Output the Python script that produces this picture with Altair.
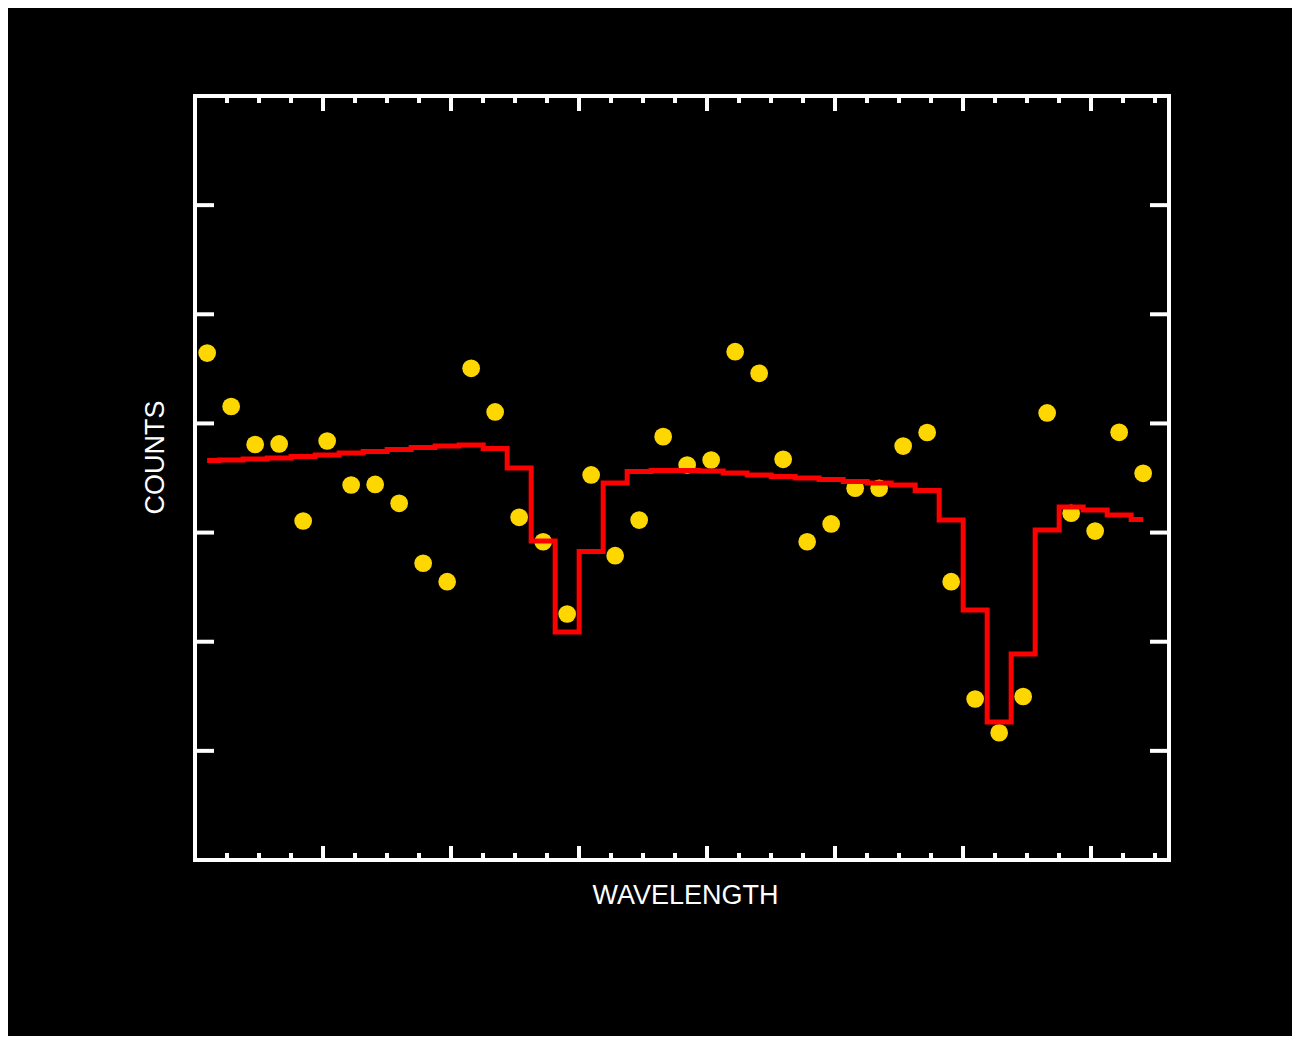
import altair as alt
import pandas as pd

# ---- data ----
wavelength = [0.38, 1.13, 1.88, 2.63, 3.38, 4.13, 4.88, 5.63, 6.38, 7.13,
              7.88, 8.63, 9.38, 10.13, 10.88, 11.63, 12.38, 13.13, 13.88, 14.63,
              15.38, 16.13, 16.88, 17.63, 18.38, 19.13, 19.88, 20.63, 21.38, 22.13,
              22.88, 23.63, 24.38, 25.13, 25.88, 26.63, 27.38, 28.13, 28.88, 29.63]

observed = [4.645, 4.155, 3.807, 3.812, 3.106, 3.839, 3.436, 3.441, 3.268, 2.719,
            2.550, 4.505, 4.105, 3.140, 2.916, 2.254, 3.528, 2.788, 3.115, 3.879,
            3.619, 3.665, 4.657, 4.459, 3.671, 2.916, 3.079, 3.406, 3.406, 3.793,
            3.917, 2.550, 1.475, 1.166, 1.498, 4.096, 3.177, 3.014, 3.919, 3.543]

model = [3.660, 3.665, 3.674, 3.683, 3.697, 3.711, 3.729, 3.743, 3.761, 3.780,
         3.793, 3.802, 3.770, 3.592, 2.923, 2.089, 2.827, 3.454, 3.560, 3.569,
         3.569, 3.564, 3.546, 3.528, 3.514, 3.500, 3.486, 3.468, 3.454, 3.436,
         3.386, 3.115, 2.291, 1.264, 1.887, 3.024, 3.234, 3.207, 3.161, 3.120]

x_major_ticks = [4, 8, 12, 16, 20, 24, 28]
x_minor_ticks = [1, 2, 3, 5, 6, 7, 9, 10, 11, 13, 14, 15, 17, 18, 19,
                 21, 22, 23, 25, 26, 27, 29, 30]
y_ticks = [1, 2, 3, 4, 5, 6]

X_DOMAIN = [0, 30.4375]
Y_DOMAIN = [0, 7]
W, H = 974, 764
FONT = "Liberation Sans"

df = pd.DataFrame({"wavelength": wavelength, "observed": observed, "model": model})
xs = alt.Scale(domain=X_DOMAIN, nice=False, zero=False)
ys = alt.Scale(domain=Y_DOMAIN, nice=False, zero=False)

x_axis = alt.Axis(title="WAVELENGTH", titlePadding=22, titleX=490)
y_axis = alt.Axis(title="COUNTS", titlePadding=26, titleY=361)

dots = alt.Chart(df).mark_circle(size=314, opacity=1, color="#FFD700").encode(
    x=alt.X("wavelength:Q", scale=xs, axis=x_axis),
    y=alt.Y("observed:Q", scale=ys, axis=y_axis),
)

line = alt.Chart(df).mark_line(color="#FF0000", strokeWidth=5, interpolate="step").encode(
    x=alt.X("wavelength:Q", scale=xs, axis=x_axis),
    y=alt.Y("model:Q", scale=ys, axis=y_axis),
)

xmaj = pd.DataFrame({"t": x_major_ticks})
xmin = pd.DataFrame({"t": x_minor_ticks})
ytk = pd.DataFrame({"t": y_ticks})

def xtick(data, y0, y1):
    return alt.Chart(data).mark_rule(color="white", strokeWidth=4).encode(
        x=alt.X("t:Q", scale=xs, axis=x_axis),
        y=alt.value(y0), y2=alt.value(y1))

def ytick(data, x0, x1):
    return alt.Chart(data).mark_rule(color="white", strokeWidth=4).encode(
        y=alt.Y("t:Q", scale=ys, axis=y_axis),
        x=alt.value(x0), x2=alt.value(x1))

ticks = [
    xtick(xmaj, H, H - 14), xtick(xmin, H, H - 7),
    xtick(xmaj, 0, 15), xtick(xmin, 0, 7),
    ytick(ytk, 0, 19), ytick(ytk, W, W - 19),
]

chart = alt.layer(dots, line, *ticks).properties(
    width=W, height=H,
    autosize=alt.AutoSizeParams(type="none"),
    padding={"left": 187, "top": 88, "right": 123, "bottom": 176},
    background="black",
).configure_view(
    stroke="white", strokeWidth=4
).configure_axis(
    labels=False, ticks=False, domain=False, grid=False,
    titleColor="white", titleFont=FONT, titleFontSize=27, titleFontWeight="normal",
)

chart.save("out.html", embed_options={"renderer": "svg", "actions": False})
